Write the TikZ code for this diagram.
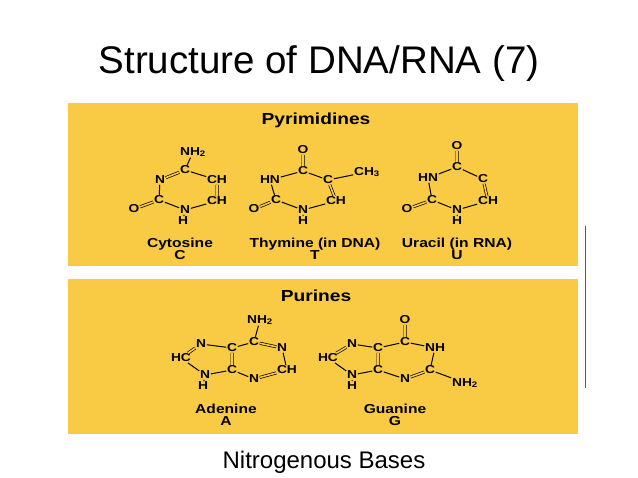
\documentclass[tikz,border=0pt]{standalone}
\usepackage{fontspec}
\setmainfont{Liberation Sans}
\newcommand\W[1]{\scalebox{1.2}[1]{#1}}
\begin{document}
\begin{tikzpicture}[x=1pt,y=-1pt,
  atom/.style={font=\fontsize{11.5}{12}\selectfont\bfseries, inner sep=0.6pt},
  lbl/.style={font=\fontsize{13}{12}\selectfont\bfseries, align=center},
  head/.style={font=\fontsize{16}{17}\selectfont\bfseries},
  b/.style={line width=1pt},
  d/.style={double=pan, double distance=1.6pt, line width=0.7pt},
  panel/.style={fill=pan, draw=none}]
\definecolor{pan}{HTML}{F9CB45}
\useasboundingbox (0,0) rectangle (638,478);
\fill[white] (0,0) rectangle (638,478);
\node[font=\fontsize{38.5}{40}\selectfont] (title) at (319,64) {Structure of DNA/RNA (7)};
\node[panel, minimum width=510, minimum height=163, inner sep=0] (p1) at (323,184.5) {};
\node[panel, minimum width=510, minimum height=155, inner sep=0] (p2) at (323,356.5) {};
\coordinate (g1) at (585,226); \coordinate (g2) at (585,388);
\draw[gray!70!black, line width=0.8pt] (g1) -- (g2);
\node[head] (hp) at (316,120) {\W{Pyrimidines}};
\node[head] (hu) at (316,296) {\W{Purines}};
\node[font=\fontsize{24}{26}\selectfont] (cap) at (324,462) {Nitrogenous Bases};
% Cytosine
\node[atom] (c1) at (193,152) {\W{NH\textsubscript{2}}};
\node[atom] (c2) at (185,170) {\W{C}};
\node[atom] (c3) at (160,180) {\W{N}};
\node[atom] (c4) at (217,180) {\W{CH}};
\node[atom] (c5) at (159,200) {\W{C}};
\node[atom] (c6) at (217,201) {\W{CH}};
\node[atom] (c7) at (185,210) {\W{N}};
\node[atom] (c8) at (183,221) {\W{H}};
\node[atom] (c9) at (134,209) {\W{O}};
\draw[b] (c1)--(c2) (c2)--(c4) (c3)--(c5) (c5)--(c7) (c7)--(c6) (c7)--(c8);
\draw[d] (c2)--(c3) (c4)--(c6) (c5)--(c9);
\node[lbl] (cl) at (180,249) {\W{Cytosine}\\\W{C}};
% Thymine
\node[atom] (t1) at (303,150) {\W{O}};
\node[atom] (t2) at (303,171) {\W{C}};
\node[atom] (t3) at (270,180) {\W{HN}};
\node[atom] (t4) at (328,180) {\W{C}};
\node[atom] (t5) at (367,172) {\W{CH\textsubscript{3}}};
\node[atom] (t6) at (276,200) {\W{C}};
\node[atom] (t7) at (336,201) {\W{CH}};
\node[atom] (t8) at (303,210) {\W{N}};
\node[atom] (t9) at (303,221) {\W{H}};
\node[atom] (t10) at (254,209) {\W{O}};
\draw[b] (t2)--(t3) (t2)--(t4) (t4)--(t5) (t3)--(t6) (t6)--(t8) (t8)--(t7) (t8)--(t9);
\draw[d] (t1)--(t2) (t4)--(t7) (t6)--(t10);
\node[lbl] (tl) at (315,249) {\W{Thymine (in DNA)}\\\W{T}};
% Uracil
\node[atom] (u1) at (457,146) {\W{O}};
\node[atom] (u2) at (457,167) {\W{C}};
\node[atom] (u3) at (428,178) {\W{HN}};
\node[atom] (u4) at (483,179) {\W{C}};
\node[atom] (u6) at (432,200) {\W{C}};
\node[atom] (u7) at (488,201) {\W{CH}};
\node[atom] (u8) at (457,210) {\W{N}};
\node[atom] (u9) at (457,221) {\W{H}};
\node[atom] (u10) at (407,209) {\W{O}};
\draw[b] (u2)--(u3) (u2)--(u4) (u3)--(u6) (u6)--(u8) (u8)--(u7) (u8)--(u9);
\draw[d] (u1)--(u2) (u4)--(u7) (u6)--(u10);
\node[lbl] (ul) at (457,249) {\W{Uracil (in RNA)}\\\W{U}};
% Adenine
\node[atom] (a1) at (260,320) {\W{NH\textsubscript{2}}};
\node[atom] (a2) at (254,342) {\W{C}};
\node[atom] (a3) at (201,344) {\W{N}};
\node[atom] (a4) at (232,348) {\W{C}};
\node[atom] (a5) at (282,348) {\W{N}};
\node[atom] (a6) at (181,358) {\W{HC}};
\node[atom] (a7) at (232,370) {\W{C}};
\node[atom] (a8) at (287,370) {\W{CH}};
\node[atom] (a9) at (205,375) {\W{N}};
\node[atom] (a10) at (254,379) {\W{N}};
\node[atom] (a11) at (203,386) {\W{H}};
\draw[b] (a1)--(a2) (a2)--(a4) (a5)--(a8) (a10)--(a7) (a4)--(a3) (a6)--(a9) (a9)--(a7) (a9)--(a11);
\draw[d] (a2)--(a5) (a8)--(a10) (a4)--(a7) (a3)--(a6);
\node[lbl] (al) at (226,415) {\W{Adenine}\\\W{A}};
% Guanine
\node[atom] (g3) at (405,320) {\W{O}};
\node[atom] (g4) at (405,342) {\W{C}};
\node[atom] (g5) at (352,344) {\W{N}};
\node[atom] (g6) at (378,348) {\W{C}};
\node[atom] (g7) at (435,348) {\W{NH}};
\node[atom] (g8) at (328,358) {\W{HC}};
\node[atom] (g9) at (378,370) {\W{C}};
\node[atom] (g10) at (430,370) {\W{C}};
\node[atom] (g11) at (352,375) {\W{N}};
\node[atom] (g12) at (405,379) {\W{N}};
\node[atom] (g13) at (352,386) {\W{H}};
\node[atom] (g14) at (465,383) {\W{NH\textsubscript{2}}};
\draw[b] (g4)--(g6) (g4)--(g7) (g7)--(g10) (g10)--(g14) (g12)--(g9) (g6)--(g5) (g8)--(g11) (g11)--(g9) (g11)--(g13);
\draw[d] (g3)--(g4) (g10)--(g12) (g6)--(g9) (g5)--(g8);
\node[lbl] (gl) at (395,415) {\W{Guanine}\\\W{G}};
\end{tikzpicture}
\end{document}
